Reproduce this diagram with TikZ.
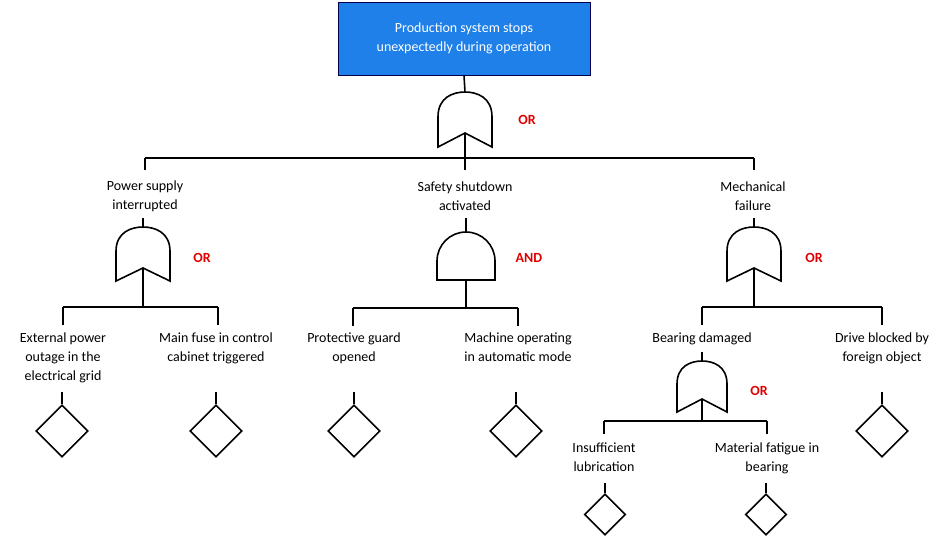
\documentclass[tikz,border=0pt]{standalone}
\usepackage{fontspec}
\setmainfont{Carlito}
\usetikzlibrary{calc,shapes.geometric}
\definecolor{topblue}{HTML}{1E80E8}
\definecolor{gred}{HTML}{E00000}
\tikzset{
  gate/.style={line width=1.6pt, fill=white, line join=miter},
  wire/.style={line width=2.6pt},
  stub/.style={line width=1.6pt},
  lab/.style={align=center, font=\fontsize{14}{19}\selectfont, inner sep=0pt},
  glab/.style={text=gred, font=\fontsize{14}{16}\selectfont\bfseries, inner sep=0pt},
  basic/.style={draw, line width=1.6pt, diamond, minimum width=#1, minimum height=#1, inner sep=0pt, aspect=1},
}
% OR gate: name, x, half-width, top, bottom, notch
\newcommand\orG[6]{%
  \draw[gate] ({#2-#3},#5) -- ({#2-#3},{#4+0.45*(#5-#4)})
    .. controls ({#2-#3},{#4+0.1*(#5-#4)}) and ({#2-0.45*#3},#4) .. (#2,#4)
    .. controls ({#2+0.45*#3},#4) and ({#2+#3},{#4+0.1*(#5-#4)}) .. ({#2+#3},{#4+0.45*(#5-#4)})
    -- ({#2+#3},#5) -- (#2,#6) -- cycle;
  \coordinate (#1-in) at (#2,#4);
  \coordinate (#1-out) at (#2,#6);}
% AND gate: name, x, half-width, top, bottom
\newcommand\andG[5]{%
  \draw[gate] ({#2-#3},#5) -- ({#2-#3},{#4+#3}) arc[start angle=180,end angle=0,x radius=#3pt,y radius=#3pt]
    -- ({#2+#3},#5) -- cycle;
  \coordinate (#1-in) at (#2,#4);
  \coordinate (#1-out) at (#2,#5);}
\begin{document}
\begin{tikzpicture}[x=1pt,y=-1pt]
\useasboundingbox (0,0) rectangle (949,538);
% top event
\node[draw=black!70!blue, line width=1pt, fill=topblue, minimum width=252pt, minimum height=73pt,
  text=white, align=center, font=\fontsize{14}{19}\selectfont] (top) at (464,38.5)
  {Production system stops\\unexpectedly during operation};
% top gate
\draw[stub] (top.south) -- (465,92);
\orG{g0}{465}{27}{92}{147}{133}
\node[glab] (l0) at (527,120) {OR};
\coordinate (b0) at (465,158);
\draw[wire] (g0-out) -- (b0);
\coordinate (b0l) at (145,158); \coordinate (b0r) at (754,158);
\draw[wire] (b0l) -- (b0r);
\coordinate (d1) at (145,170); \coordinate (d2) at (465,170); \coordinate (d3) at (754,170);
\draw[wire] (b0l) -- (d1); \draw[wire] (b0) -- (d2); \draw[wire] (b0r) -- (d3);
% level 1 labels
\node[lab] (e1) at (145,196.5) {Power supply\\interrupted};
\node[lab] (e2) at (465,196.5) {Safety shutdown\\activated};
\node[lab] (e3) at (753,196.5) {Mechanical\\failure};
% gates level 1
\orG{g1}{143}{27}{227}{281}{268}
\andG{g2}{466}{29}{232}{280}
\orG{g3}{754}{27}{227}{281}{268}
\draw[stub] (143,218) -- (g1-in);
\draw[stub] (466,218) -- (g2-in);
\draw[stub] (754,218) -- (g3-in);
\node[glab] (l1) at (202,258) {OR};
\node[glab] (l2) at (529,258) {AND};
\node[glab] (l3) at (814,258) {OR};
% bars level 2
\coordinate (c1) at (143,307); \coordinate (c2) at (466,308); \coordinate (c3) at (754,307);
\draw[wire] (g1-out) -- (c1); \draw[wire] (g2-out) -- (c2); \draw[wire] (g3-out) -- (c3);
\coordinate (p1l) at (63,307); \coordinate (p1r) at (218,307);
\coordinate (p2l) at (353,308); \coordinate (p2r) at (518,308);
\coordinate (p3l) at (702,307); \coordinate (p3r) at (882,307);
\draw[wire] (p1l) -- (p1r); \draw[wire] (p2l) -- (p2r); \draw[wire] (p3l) -- (p3r);
\foreach \p in {p1l,p1r,p2l,p2r,p3l,p3r} \draw[wire] (\p) -- ++(0,18);
% level 2 labels
\node[lab,anchor=north] (f1) at (63,333) {External power\\outage in the\\electrical grid};
\node[lab,anchor=north] (f2) at (216,333) {Main fuse in control\\cabinet triggered};
\node[lab,anchor=north] (f3) at (354,333) {Protective guard\\opened};
\node[lab,anchor=north] (f4) at (518,333) {Machine operating\\in automatic mode};
\node[lab,anchor=north] (f5) at (702,333) {Bearing damaged};
\node[lab,anchor=north] (f6) at (882,333) {Drive blocked by\\foreign object};
% basic events
\foreach \n/\x in {1/62,2/216,3/354,4/516,6/882}{
  \node[basic=52pt] (k\n) at (\x,431) {};
  \draw[stub] (\x,392) -- (k\n.north);
}
% bearing gate
\orG{g5}{702}{25}{361}{412}{399}
\draw[stub] (702,352) -- (g5-in);
\node[glab] (l5) at (759,391) {OR};
\coordinate (c5) at (702,421);
\draw[wire] (g5-out) -- (c5);
\coordinate (p5l) at (604,421); \coordinate (p5r) at (767,421);
\draw[wire] (p5l) -- (p5r);
\draw[wire] (p5l) -- ++(0,13); \draw[wire] (p5r) -- ++(0,13);
\node[lab,anchor=north] (h1) at (604,443) {Insufficient\\lubrication};
\node[lab,anchor=north] (h2) at (767,443) {Material fatigue in\\bearing};
\node[basic=41pt] (m1) at (605,514.5) {};
\node[basic=41pt] (m2) at (766,514.5) {};
\draw[stub] (605,483) -- (m1.north);
\draw[stub] (766,483) -- (m2.north);
\end{tikzpicture}
\end{document}
